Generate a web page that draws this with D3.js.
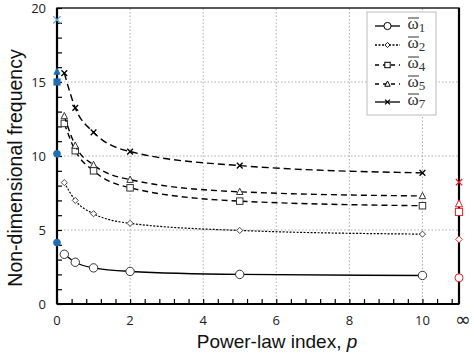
<!DOCTYPE html>
<html>
<head>
<meta charset="utf-8">
<script src="https://cdn.jsdelivr.net/npm/d3@7"></script>
<style>
  body { margin: 0; background: #fff; }
  svg { display: block; }
</style>
</head>
<body>
<div id="chart"></div>
<script>
// values
var pValues = [0.2, 0.5, 1, 2, 5, 10];
var names = ["1", "2", "4", "5", "7"];
var omega1 = [3.36, 2.82, 2.44, 2.2, 2.0, 1.93];
var omega2 = [8.2, 7.0, 6.1, 5.45, 4.97, 4.72];
var omega4 = [12.2, 10.36, 9.0, 7.85, 6.95, 6.64];
var omega5 = [12.7, 10.7, 9.4, 8.4, 7.58, 7.3];
var omega7 = [15.6, 13.25, 11.6, 10.3, 9.35, 8.86];
var atZero = [4.15, 10.15, 15.0, 15.7, 19.2];    // p = 0 (blue)
var atInfinity = [1.77, 4.37, 6.22, 6.77, 8.23];  // p = inf (red)
var xTicks = [0, 2, 4, 6, 8, 10];
var yTicks = [0, 5, 10, 15, 20];

var series = [omega1, omega2, omega4, omega5, omega7];
var symbols = ["circle", "diamond", "square", "triangle", "cross"];
var dashes = [null, "2,1.5", "6,4", "6,4", "7,4"];

var width = 474, height = 353;
var margin = {top: 8, right: 15, bottom: 49, left: 57};
var infX = 11;

var svg = d3.select("#chart").append("svg")
    .attr("width", width)
    .attr("height", height);

var x = d3.scaleLinear().domain([0, infX]).range([margin.left, width - margin.right]);
var y = d3.scaleLinear().domain([0, 20]).range([height - margin.bottom, margin.top]);

// grid
var grid = svg.append("g").attr("stroke", "#999").attr("stroke-dasharray", "1.5,2").attr("stroke-width", 0.8);
grid.selectAll(".vg").data(xTicks.slice(1)).enter().append("line")
    .attr("x1", d => x(d)).attr("x2", d => x(d))
    .attr("y1", y(0)).attr("y2", y(20));
grid.selectAll(".hg").data(yTicks.slice(1, -1)).enter().append("line")
    .attr("x1", x(0)).attr("x2", x(infX))
    .attr("y1", d => y(d)).attr("y2", d => y(d));

// axes
var minorX = d3.range(0, 10.81, 0.4);
var xAxis = d3.axisBottom(x).tickValues(minorX).tickSize(-5).tickFormat("");
svg.append("g").attr("transform", "translate(0," + y(0) + ")").call(xAxis)
    .call(g => g.select(".domain").remove())
    .call(g => g.selectAll("line").attr("stroke", "#000").attr("stroke-width", 1.2));

var yAxis = d3.axisLeft(y).ticks(20).tickSize(-5).tickFormat("");
svg.append("g").attr("transform", "translate(" + x(0) + ",0)").call(yAxis)
    .call(g => g.select(".domain").remove())
    .call(g => g.selectAll("line").attr("stroke", "#000").attr("stroke-width", 1.2));

// frame
svg.append("rect")
    .attr("x", x(0)).attr("y", y(20))
    .attr("width", x(infX) - x(0)).attr("height", y(0) - y(20))
    .attr("fill", "none").attr("stroke", "#000").attr("stroke-width", 1.3);
svg.append("line")
    .attr("x1", x(0)).attr("x2", x(0)).attr("y1", y(0)).attr("y2", y(20))
    .attr("stroke", "#000").attr("stroke-width", 2.2);
svg.append("line")
    .attr("x1", x(infX)).attr("x2", x(infX)).attr("y1", y(0)).attr("y2", y(20))
    .attr("stroke", "#000").attr("stroke-width", 2.2);
svg.append("line")
    .attr("x1", x(0)).attr("x2", x(infX)).attr("y1", y(0)).attr("y2", y(0))
    .attr("stroke", "#000").attr("stroke-width", 2.2);

// tick labels
svg.selectAll(".xl").data(xTicks).enter().append("text")
    .attr("x", d => x(d)).attr("y", y(0) + 21)
    .attr("text-anchor", "middle")
    .attr("font-family", "Open Sans, sans-serif").attr("font-size", 13).attr("fill", "#222")
    .text(d => d);
svg.append("text")
    .attr("x", x(infX) + 4).attr("y", y(0) + 22)
    .attr("text-anchor", "middle")
    .attr("font-family", "DejaVu Sans, sans-serif").attr("font-size", 19).attr("fill", "#222")
    .text("\u221E");
svg.selectAll(".yl").data(yTicks).enter().append("text")
    .attr("x", x(0) - 11).attr("y", d => y(d) + 4.5)
    .attr("text-anchor", "end")
    .attr("font-family", "Open Sans, sans-serif").attr("font-size", 13).attr("fill", "#222")
    .text(d => d);

// axis titles
var xt = svg.append("text")
    .attr("x", 277).attr("y", 348)
    .attr("text-anchor", "middle")
    .attr("font-family", "Liberation Sans, Arial, sans-serif").attr("font-size", 19).attr("fill", "#111");
xt.append("tspan").text("Power-law index, ");
xt.append("tspan").attr("font-style", "italic").text("p");

svg.append("text")
    .attr("transform", "translate(22," + 168 + ") rotate(-90)")
    .attr("text-anchor", "middle")
    .attr("font-family", "Liberation Sans, Arial, sans-serif").attr("font-size", 19.5).attr("fill", "#111")
    .text("Non-dimensional frequency");

// markers
function drawMarker(g, type, cx, cy, color, filled, s) {
    var fill = filled ? color : "#fff";
    if (type === "circle") {
        g.append("circle").attr("cx", cx).attr("cy", cy).attr("r", s)
            .attr("fill", fill).attr("stroke", color).attr("stroke-width", 1);
    } else if (type === "diamond") {
        var r = s * 0.85;
        g.append("path")
            .attr("d", "M" + cx + "," + (cy - r) + "L" + (cx + r) + "," + cy + "L" + cx + "," + (cy + r) + "L" + (cx - r) + "," + cy + "Z")
            .attr("fill", fill).attr("stroke", color).attr("stroke-width", 0.9);
    } else if (type === "square") {
        var h = s * 0.9;
        g.append("rect").attr("x", cx - h).attr("y", cy - h).attr("width", 2 * h).attr("height", 2 * h)
            .attr("fill", fill).attr("stroke", color).attr("stroke-width", 1);
    } else if (type === "triangle") {
        var t = s;
        g.append("path")
            .attr("d", "M" + cx + "," + (cy - t) + "L" + (cx + t * 0.9) + "," + (cy + t * 0.75) + "L" + (cx - t * 0.9) + "," + (cy + t * 0.75) + "Z")
            .attr("fill", fill).attr("stroke", color).attr("stroke-width", 1);
    } else {
        var c = s * 0.8;
        g.append("path")
            .attr("d", "M" + (cx - c) + "," + (cy - c) + "L" + (cx + c) + "," + (cy + c) + "M" + (cx - c) + "," + (cy + c) + "L" + (cx + c) + "," + (cy - c))
            .attr("fill", "none").attr("stroke", color).attr("stroke-width", 1.3);
    }
}

var line = d3.line()
    .x((d, i) => x(pValues[i]))
    .y(d => y(d))
    .curve(d3.curveMonotoneX);

series.forEach(function (vals, k) {
    var g = svg.append("g");
    g.append("path")
        .attr("d", line(vals))
        .attr("fill", "none")
        .attr("stroke", "#000")
        .attr("stroke-width", k === 1 ? 1.2 : 1.4)
        .attr("stroke-dasharray", dashes[k]);
    vals.forEach(function (v, i) {
        drawMarker(g, symbols[k], x(pValues[i]), y(v), k === 4 ? "#000" : "#333", false, k === 0 ? 4.2 : 3.6);
    });
});

// p = 0 and p = infinity values
atZero.forEach(function (v, k) {
    var col = k === 4 ? "#6aa6dc" : "#1f6fb2";
    drawMarker(svg, k === 1 ? "circle" : symbols[k], x(0), y(v), col, k !== 4, k === 4 ? 4.6 : 3.4);
});
atInfinity.forEach(function (v, k) {
    drawMarker(svg, symbols[k], x(infX), y(v), "#e8202a", false, 4);
});

// legend
var lg = svg.append("g");
lg.append("rect")
    .attr("x", 367).attr("y", 12).attr("width", 69).attr("height", 103)
    .attr("fill", "#fff").attr("stroke", "#bbb").attr("stroke-width", 1);
var rowY = [26, 45, 65, 84, 102];
names.forEach(function (n, k) {
    var yy = rowY[k];
    lg.append("line")
        .attr("x1", 375).attr("x2", 400).attr("y1", yy).attr("y2", yy)
        .attr("stroke", "#000").attr("stroke-width", 1.3)
        .attr("stroke-dasharray", k === 0 || k === 4 ? null : (k === 1 ? "2,1.5" : "4,4"));
    drawMarker(lg, symbols[k], 387.5, yy, "#000", false, k === 0 ? 3.6 : 3);
    lg.append("line")
        .attr("x1", 408).attr("x2", 419).attr("y1", yy - 8).attr("y2", yy - 8)
        .attr("stroke", "#333").attr("stroke-width", 1);
    var t = lg.append("text")
        .attr("x", 407.5).attr("y", yy + 3)
        .attr("font-family", "Liberation Serif, serif").attr("font-size", 17).attr("fill", "#333");
    t.append("tspan").text("\u03C9");
    t.append("tspan").attr("dy", 3).attr("font-size", 13).text(n);
});
</script>
</body>
</html>
